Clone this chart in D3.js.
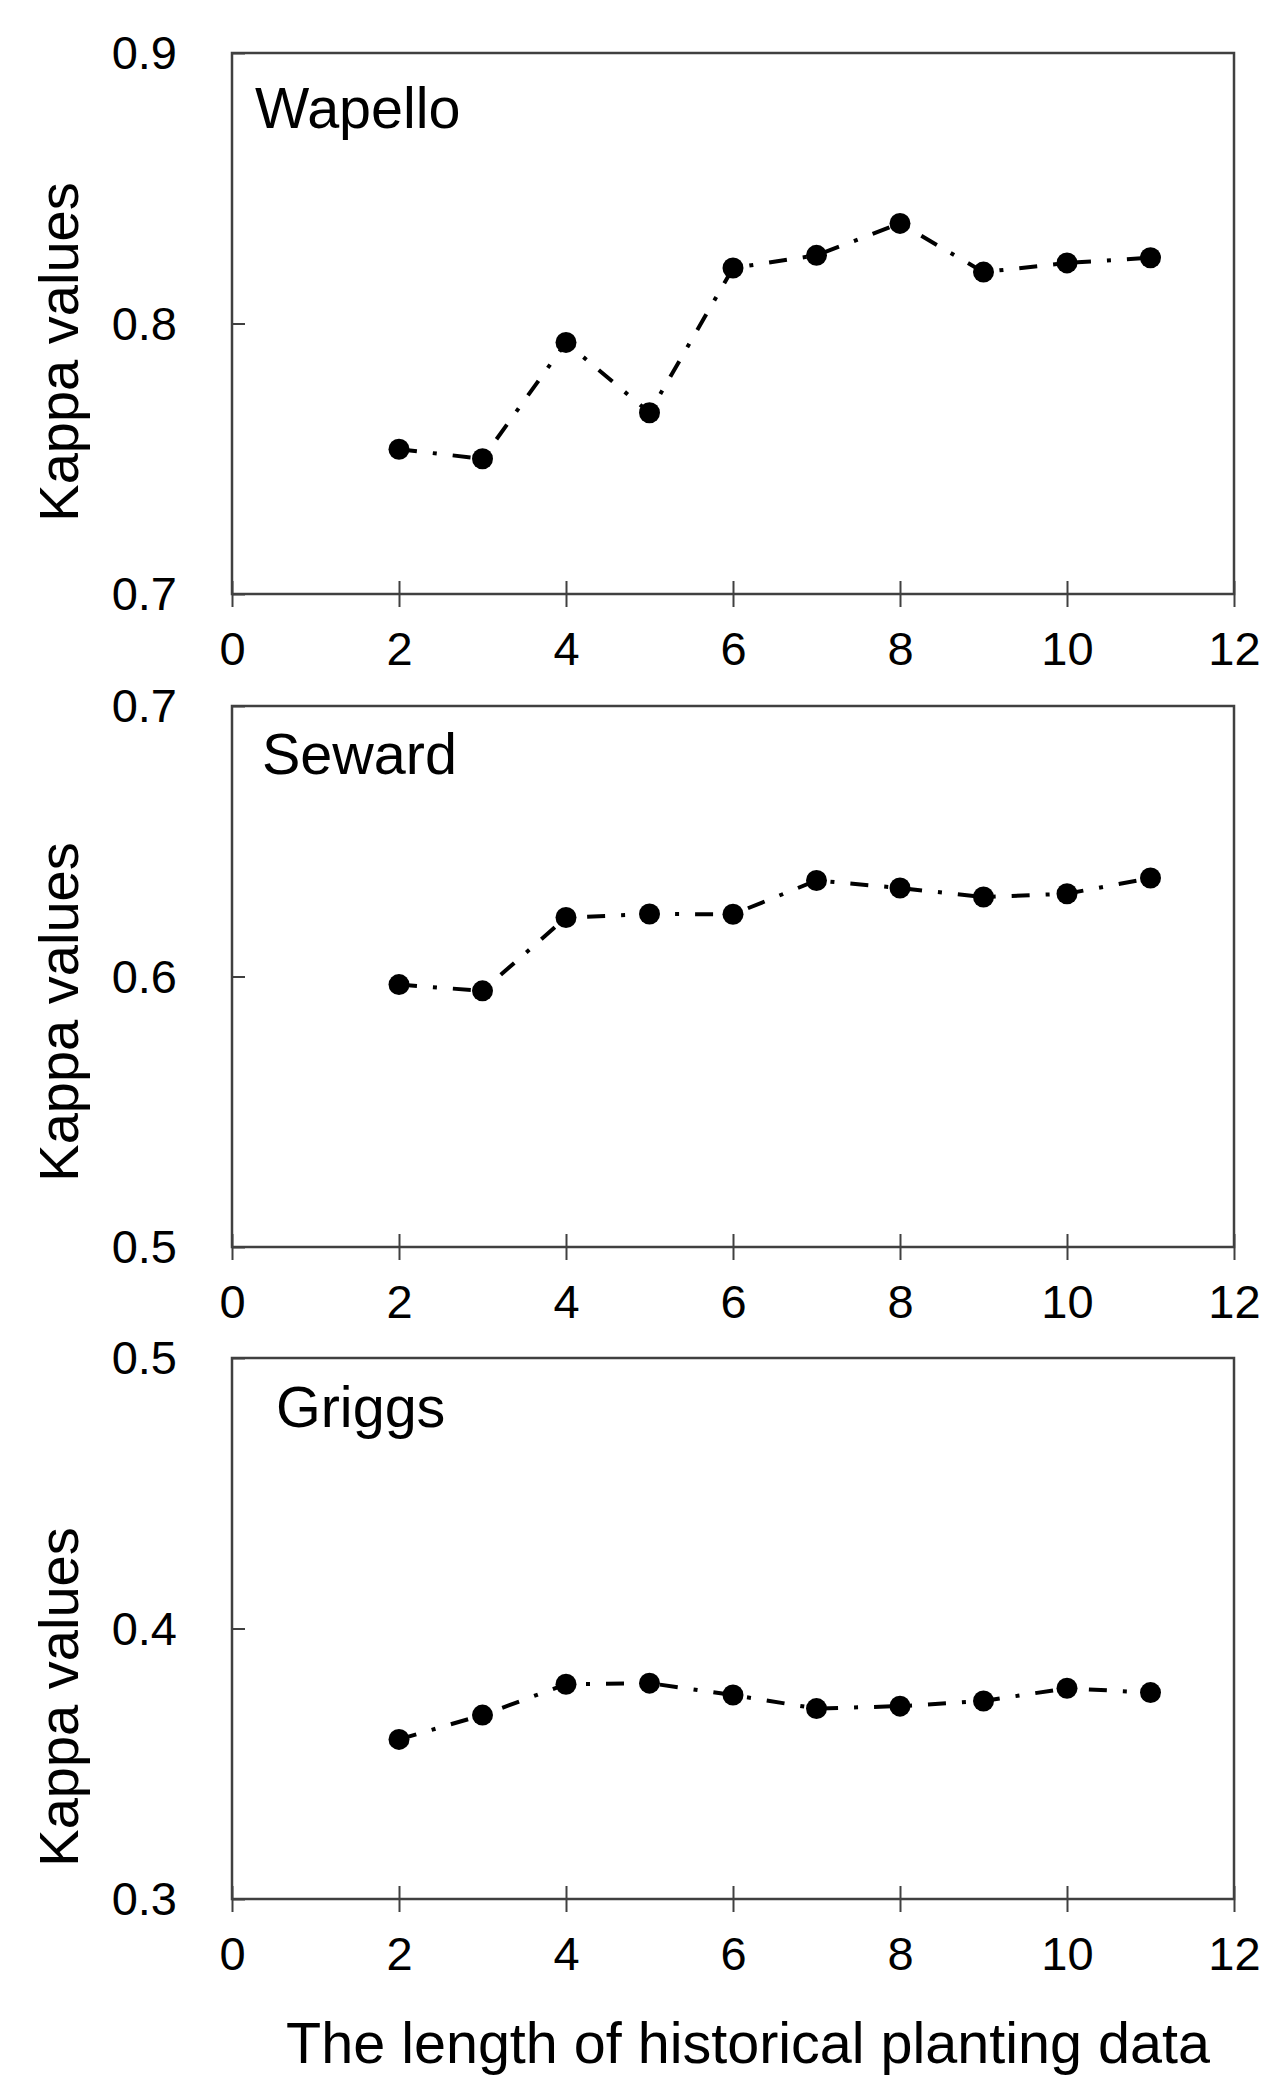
<!DOCTYPE html>
<html>
<head>
<meta charset="utf-8">
<script src="https://cdn.jsdelivr.net/npm/d3@7"></script>
<style>
  body { margin: 0; background: #fff; }
  svg { display: block; font-family: "Liberation Sans", Arial, sans-serif; }
</style>
</head>
<body>
<div id="chart"></div>
<script>
// data
const years = [2, 3, 4, 5, 6, 7, 8, 9, 10, 11];
const counties = ["Wapello", "Seward", "Griggs"];
const wapello = [0.7535, 0.7500, 0.7930, 0.7670, 0.8205, 0.8252, 0.8370, 0.8190, 0.8224, 0.8243];
const seward = [0.5970, 0.5947, 0.6218, 0.6231, 0.6230, 0.6355, 0.6327, 0.6294, 0.6306, 0.6364];
const griggs = [0.3590, 0.3680, 0.3794, 0.3798, 0.3754, 0.3704, 0.3713, 0.3732, 0.3779, 0.3763];
const yDomains = [[0.7, 0.9], [0.5, 0.7], [0.3, 0.5]];
const xTicks = [0, 2, 4, 6, 8, 10, 12];
const yLabel = "Kappa values";
const xLabel = "The length of historical planting data";

const series = [wapello, seward, griggs];

// layout
const W = 1274, H = 2092;
const left = 232, right = 1234;
const panelTops = [53, 706, 1358];
const panelH = 541;
const nameX = [255, 262, 276];
const nameDy = [75, 68, 69];
const kappaCenter = [352, 1012, 1697];

const svg = d3.select("#chart").append("svg")
  .attr("width", W)
  .attr("height", H);

const x = d3.scaleLinear().domain([0, 12]).range([left, right]);

series.forEach((vals, i) => {
  const top = panelTops[i];
  const y = d3.scaleLinear().domain(yDomains[i]).range([top + panelH, top]);
  const g = svg.append("g");

  // frame
  g.append("rect")
    .attr("x", left).attr("y", top)
    .attr("width", right - left).attr("height", panelH)
    .attr("fill", "none")
    .attr("stroke", "#404040")
    .attr("stroke-width", 2.5);

  // y axis (ticks inside)
  const lo = yDomains[i][0], hi = yDomains[i][1];
  const yAxis = g.append("g")
    .attr("transform", `translate(${left},0)`)
    .call(d3.axisLeft(y)
      .tickValues([lo, (lo + hi) / 2, hi])
      .tickSize(-13)
      .tickPadding(55)
      .tickFormat(d3.format(".1f")));
  yAxis.select(".domain").remove();
  yAxis.selectAll("line").attr("stroke", "#404040").attr("stroke-width", 2);
  yAxis.selectAll("text")
    .attr("font-size", 47)
    .attr("font-family", "Liberation Sans, Arial, sans-serif")
    .attr("fill", "#000")
    .attr("dy", "0.33em");

  // x axis (ticks cross)
  const xAxis = g.append("g")
    .attr("transform", `translate(0,${top + panelH})`)
    .call(d3.axisBottom(x).tickValues(xTicks).tickSize(13));
  xAxis.select(".domain").remove();
  xAxis.selectAll("line")
    .attr("y1", -13)
    .attr("stroke", "#404040").attr("stroke-width", 2);
  xAxis.selectAll("text")
    .attr("y", 71)
    .attr("dy", null)
    .attr("font-size", 47)
    .attr("font-family", "Liberation Sans, Arial, sans-serif")
    .attr("fill", "#000");

  // series line
  const line = d3.line()
    .x((d, j) => x(years[j]))
    .y(d => y(d));

  g.append("path")
    .datum(vals)
    .attr("d", line)
    .attr("fill", "none")
    .attr("stroke", "#000")
    .attr("stroke-width", 4)
    .attr("stroke-dasharray", "18,16,4,16");

  g.selectAll(".dot")
    .data(vals)
    .join("circle")
    .attr("class", "dot")
    .attr("cx", (d, j) => x(years[j]))
    .attr("cy", d => y(d))
    .attr("r", 10.5)
    .attr("fill", "#000");

  // county name
  g.append("text")
    .attr("x", nameX[i])
    .attr("y", top + nameDy[i])
    .attr("font-size", 57.5)
    .attr("fill", "#000")
    .text(counties[i]);

  // y label
  g.append("text")
    .attr("transform", `translate(78,${kappaCenter[i]}) rotate(-90)`)
    .attr("text-anchor", "middle")
    .attr("font-size", 56)
    .attr("fill", "#000")
    .text(yLabel);
});

svg.append("text")
  .attr("x", 748)
  .attr("y", 2063)
  .attr("text-anchor", "middle")
  .attr("font-size", 57.5)
  .attr("fill", "#000")
  .text(xLabel);
</script>
</body>
</html>
